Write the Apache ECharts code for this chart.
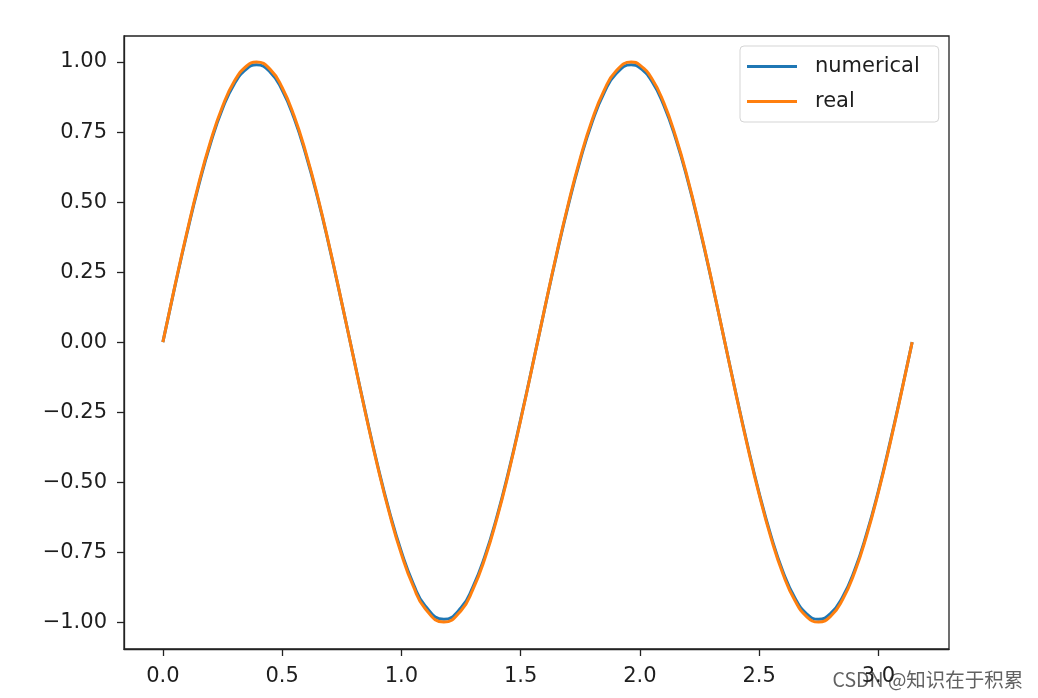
<!DOCTYPE html>
<html>
<head>
<meta charset="utf-8">
<script src="https://cdn.jsdelivr.net/npm/echarts@6/dist/echarts.min.js"></script>
<style>
  html, body { margin: 0; padding: 0; background: #fff; }
  #main { width: 1038px; height: 698px; }
</style>
</head>
<body>
<div id="main"></div>
<script>
// x 取样点 (0 ~ π)，含波峰/波谷位置
var xs = [0.00, 0.05, 0.10, 0.15, 0.20, 0.25, 0.30, 0.35, 0.3927, 0.45, 0.50, 0.55, 0.60, 0.65, 0.70, 0.75,
  0.80, 0.85, 0.90, 0.95, 1.00, 1.05, 1.10, 1.1781, 1.25, 1.30, 1.35, 1.40, 1.45, 1.50, 1.55,
  1.60, 1.65, 1.70, 1.75, 1.80, 1.85, 1.90, 1.9635, 2.00, 2.05, 2.10, 2.15, 2.20, 2.25, 2.30, 2.35,
  2.40, 2.45, 2.50, 2.55, 2.60, 2.65, 2.70, 2.7489, 2.80, 2.85, 2.90, 2.95, 3.00, 3.05, 3.10, 3.1416];

// 数值解
var numerical = [0, 0.197, 0.385, 0.559, 0.710, 0.833, 0.923, 0.975, 0.990, 0.964, 0.900, 0.800, 0.668, 0.511, 0.332, 0.140,
  -0.057, -0.253, -0.439, -0.606, -0.749, -0.863, -0.942, -0.990, -0.949, -0.874, -0.765, -0.625, -0.460, -0.276, -0.082,
  0.116, 0.309, 0.489, 0.650, 0.786, 0.890, 0.958, 0.990, 0.979, 0.932, 0.846, 0.727, 0.579, 0.408, 0.221, 0.024,
  -0.173, -0.363, -0.539, -0.693, -0.820, -0.914, -0.971, -0.990, -0.969, -0.910, -0.815, -0.686, -0.531, -0.354, -0.164, 0];

// 真实解
var real = [0, 0.199, 0.389, 0.565, 0.717, 0.841, 0.932, 0.985, 1.000, 0.974, 0.909, 0.808, 0.675, 0.516, 0.335, 0.141,
  -0.058, -0.256, -0.443, -0.612, -0.757, -0.872, -0.952, -1.000, -0.959, -0.883, -0.773, -0.631, -0.465, -0.279, -0.083,
  0.117, 0.312, 0.494, 0.657, 0.794, 0.899, 0.968, 1.000, 0.989, 0.941, 0.855, 0.734, 0.585, 0.412, 0.223, 0.024,
  -0.175, -0.367, -0.544, -0.700, -0.828, -0.923, -0.981, -1.000, -0.979, -0.919, -0.823, -0.693, -0.536, -0.358, -0.166, 0];

var xTicks = [0, 0.5, 1.0, 1.5, 2.0, 2.5, 3.0];
var yTicks = [-1.00, -0.75, -0.50, -0.25, 0.00, 0.25, 0.50, 0.75, 1.00];
var seriesNames = ['numerical', 'real'];

function pairs(ys) {
  return xs.map(function (x, i) { return [x, ys[i]]; });
}
function fmt(v, d) {
  var s = Math.abs(v).toFixed(d);
  return (v < -1e-9 ? '\u2212' : '') + s;
}

var myChart = echarts.init(document.getElementById('main'));
var font = 'DejaVu Sans';
var option = {
  animation: false,
  backgroundColor: '#fff',
  grid: {
    left: 124, top: 36, right: 89, bottom: 49,
    show: true, borderColor: '#222', borderWidth: 1.3
  },
  legend: {
    orient: 'vertical',
    left: 740, top: 46,
    padding: [10, 19, 10, 7],
    itemWidth: 50, itemHeight: 3,
    itemGap: 14,
    icon: 'rect',
    borderColor: '#d5d5d5', borderWidth: 1, borderRadius: 4,
    data: seriesNames,
    textStyle: { fontFamily: font, fontSize: 21, color: '#1e1e1e', padding: [3, 0, 0, 13] }
  },
  xAxis: {
    type: 'value',
    min: -0.163, max: 3.296,
    axisLine: { show: true, onZero: false, lineStyle: { color: '#222', width: 1.3 } },
    axisTick: { show: true, length: 7, customValues: xTicks, lineStyle: { color: '#222', width: 1.3 } },
    axisLabel: {
      customValues: xTicks, margin: 17,
      fontFamily: font, fontSize: 21, color: '#1e1e1e',
      formatter: function (v) { return fmt(v, 1); }
    },
    splitLine: { show: false }
  },
  yAxis: {
    type: 'value',
    min: -1.096, max: 1.093,
    axisLine: { show: true, onZero: false, lineStyle: { color: '#222', width: 1.3 } },
    axisTick: { show: true, length: 7, customValues: yTicks, lineStyle: { color: '#222', width: 1.3 } },
    axisLabel: {
      customValues: yTicks, margin: 17,
      fontFamily: font, fontSize: 21, color: '#1e1e1e',
      padding: [6, 0, 0, 0],
      formatter: function (v) { return fmt(v, 2); }
    },
    splitLine: { show: false }
  },
  series: [{
    name: seriesNames[0],
    type: 'line',
    smooth: true,
    showSymbol: false,
    color: '#1f77b4',
    lineStyle: { width: 3 },
    data: pairs(numerical)
  }, {
    name: seriesNames[1],
    type: 'line',
    smooth: true,
    showSymbol: false,
    color: '#ff7f0e',
    lineStyle: { width: 3 },
    data: pairs(real)
  }],
  graphic: [{
    type: 'text',
    left: 832, top: 669,
    style: {
      text: 'CSDN @知识在于积累',
      font: '19.5px "Noto Sans CJK SC"',
      fill: 'rgba(80,80,80,0.9)',
      stroke: 'rgba(255,255,255,0.6)',
      lineWidth: 1
    }
  }]
};
myChart.setOption(option);
</script>
</body>
</html>
